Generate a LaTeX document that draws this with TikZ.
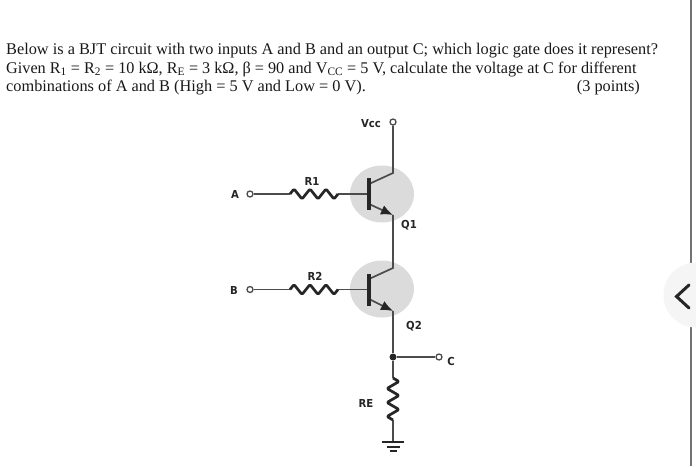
\documentclass[tikz,border=0pt]{standalone}
\usepackage{fontspec}
\setmainfont{Liberation Serif}
\newfontfamily\labelfont{DejaVu Sans}[FakeStretch=0.92]
\usetikzlibrary{arrows.meta,shapes.geometric}
\definecolor{wirec}{gray}{0.30}
\definecolor{glow}{gray}{0.86}
\newcommand{\sbs}[1]{\textsubscript{#1}}
\tikzset{
  x=1pt,y=-1pt,
  wire/.style={draw=wirec,line width=1.7pt},
  zigh/.style={draw=black!85,line width=2.7pt,line join=round,rounded corners=1.2pt},
  term/.style={circle,draw=wirec,fill=white,line width=1.3pt,inner sep=0pt,minimum size=6pt},
  dotn/.style={circle,fill=black!85,inner sep=0pt,minimum size=7pt},
  tlabel/.style={font=\labelfont\bfseries\fontsize{11}{13}\selectfont,text=black!85,inner sep=0pt},
  qline/.style={anchor=base west,inner sep=0pt,font=\fontsize{16.3}{19}\selectfont,text=black!90},
  glowc/.style={ellipse,fill=glow,minimum width=64pt,minimum height=57pt,inner sep=0pt},
  barb/.style={draw=black!85,line width=3.8pt},
  emit/.style={draw=wirec,line width=1.7pt,-{Latex[length=12pt,width=10pt,black!85]}},
  gbar/.style={draw=black!85,line width=2.6pt},
}
\begin{document}
\begin{tikzpicture}
\useasboundingbox (0,0) rectangle (696,466);
\fill[white] (0,0) rectangle (696,466);
% question text
\node[qline] (l1) at (6,54) {Below is a BJT circuit with two inputs A and B and an output C; which logic gate does it represent?};
\node[qline] (l2) at (6,73) {\scalebox{0.994}[1]{Given R\sbs{1} = R\sbs{2} = 10 kΩ, R\sbs{E} = 3 kΩ, β = 90 and V\sbs{CC} = 5 V, calculate the voltage at C for different}};
\node[qline] (l3) at (6,91.5) {combinations of A and B (High = 5 V and Low = 0 V).};
\node[qline,anchor=base east] (pts) at (640,91.5) {(3 points)};
% transistor glows
\node[glowc] (g1) at (382,194) {};
\node[glowc] (g2) at (382,289) {};
% terminals and junctions
\coordinate (q1c) at (393,173);
\coordinate (q1cb) at (369,184);
\coordinate (q1e) at (393,215);
\coordinate (q1eb) at (369,204);
\coordinate (q1b) at (369,194);
\coordinate (q2c) at (393,268);
\coordinate (q2cb) at (369,279);
\coordinate (q2e) at (393,311);
\coordinate (q2eb) at (369,299);
\coordinate (q2b) at (369,289.5);
\coordinate (r1a) at (290,194);
\coordinate (r1b) at (338,194);
\coordinate (r2a) at (290,289.5);
\coordinate (r2b) at (338,289.5);
\coordinate (rea) at (393,378);
\coordinate (reb) at (393,420);
\coordinate (gnd) at (393,442);
\node[term] (vcc) at (393,122) {};
\node[term] (ta) at (250,194) {};
\node[term] (tb) at (250,289.5) {};
\node[term] (tc) at (439,357) {};
\node[dotn] (j) at (393,357) {};
% wires
\draw[wire] (vcc) -- (q1c) -- (q1cb);
\draw[wire] (q1e) -- (q2c) -- (q2cb);
\draw[wire] (ta) -- (r1a);
\draw[wire] (r1b) -- (q1b);
\draw[wire] (tb) -- (r2a);
\draw[wire] (r2b) -- (q2b);
\draw[wire] (q2e) -- (j);
\draw[wire] (j) -- (tc);
\draw[wire] (j) -- (rea);
\draw[wire] (reb) -- (gnd);
\draw[emit] (q1eb) -- (q1e);
\draw[emit] (q2eb) -- (q2e);
\draw[barb] (369,178) -- (369,210);
\draw[barb] (369,274) -- (369,306);
% resistors
\draw[zigh] (r1a) -- ++(4,-5) -- ++(8,10) -- ++(8,-10) -- ++(8,10) -- ++(8,-10) -- ++(8,10) -- (r1b);
\draw[zigh] (r2a) -- ++(4,-5) -- ++(8,10) -- ++(8,-10) -- ++(8,10) -- ++(8,-10) -- ++(8,10) -- (r2b);
\draw[zigh] (rea) -- ++(6,3.5) -- ++(-12,7) -- ++(12,7) -- ++(-12,7) -- ++(12,7) -- ++(-12,7) -- (reb);
% ground
\draw[gbar] (382,442) -- (404,442);
\draw[gbar] (387,447) -- (400,447);
\draw[gbar] (389.5,451) -- (396.5,451);
% labels
\node[tlabel] (lv) at (371,124) {Vcc};
\node[tlabel] (la) at (235,194.5) {A};
\node[tlabel] (lb) at (234,290) {B};
\node[tlabel] (lr1) at (312,181) {R1};
\node[tlabel] (lr2) at (315,276) {R2};
\node[tlabel] (lq1) at (409,225) {Q1};
\node[tlabel] (lq2) at (414,326) {Q2};
\node[tlabel] (lc) at (451,361) {C};
\node[tlabel] (lre) at (366,403) {RE};
% right edge and side button
\draw[draw=black!55,line width=2pt] (691,0) -- (691,466);
\fill[black!4] (696,295) circle (32.5);
\draw[black!85,line width=3pt,line cap=round,line join=miter] (689,285) -- (676.5,296.5) -- (689,308);
\end{tikzpicture}
\end{document}
